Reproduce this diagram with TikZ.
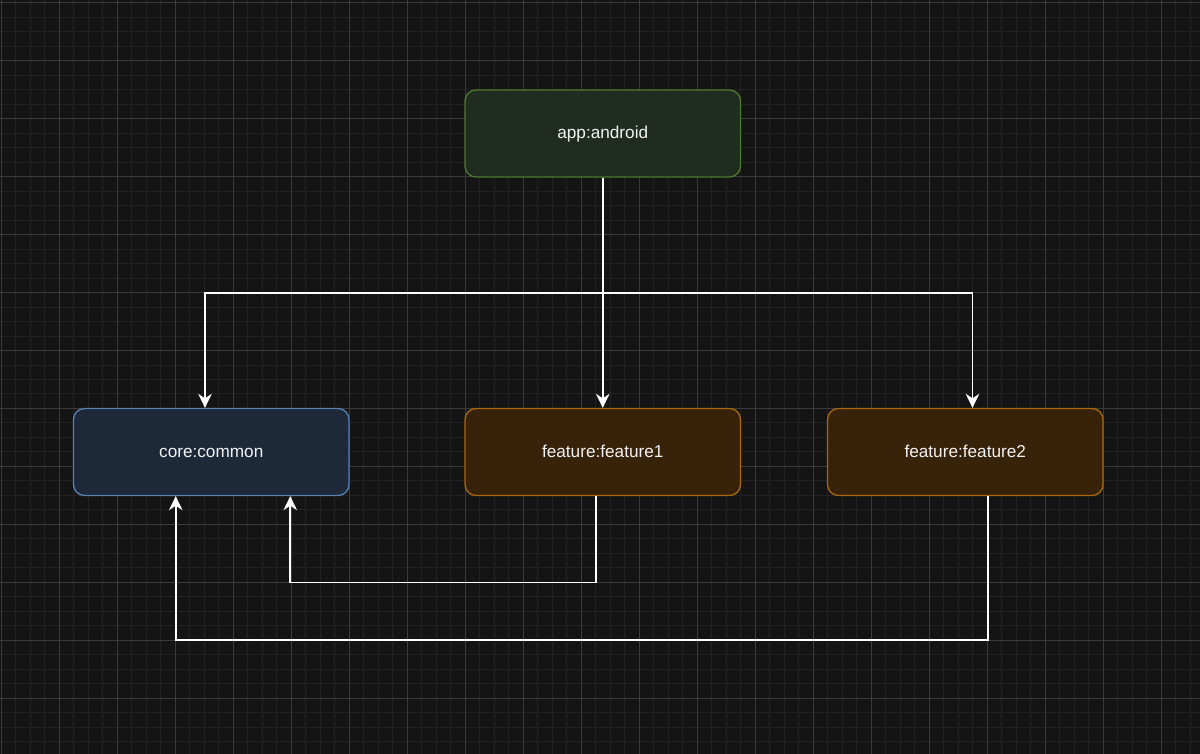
\documentclass[tikz,border=0pt]{standalone}
\usepackage{fontspec}
\setmainfont{Liberation Sans}
\usetikzlibrary{arrows.meta}
\definecolor{bgc}{HTML}{141414}
\definecolor{minorc}{HTML}{222222}
\definecolor{majorc}{HTML}{3A3A3A}
\definecolor{appfill}{HTML}{212C21}
\definecolor{appdraw}{HTML}{4C7B2D}
\definecolor{corefill}{HTML}{1D2838}
\definecolor{coredraw}{HTML}{5B7FB3}
\definecolor{featfill}{HTML}{38220A}
\definecolor{featdraw}{HTML}{A8680D}
\definecolor{txtc}{HTML}{F2F2F2}
\tikzset{
  minorline/.style={draw=minorc, line width=1pt},
  majorline/.style={draw=majorc, line width=1pt},
  modbox/.style={rounded corners=11pt, line width=1.3pt, minimum width=275.5pt, minimum height=87pt,
    inner sep=0pt, text=txtc, text height=13pt, text depth=2pt, font=\fontsize{17.2}{20}\selectfont},
  appbox/.style={modbox, draw=appdraw, fill=appfill},
  corebox/.style={modbox, draw=coredraw, fill=corefill},
  featbox/.style={modbox, draw=featdraw, fill=featfill},
  conn/.style={draw=white, line width=1.8pt, -{Stealth[length=14pt,width=13.5pt,inset=4.5pt]}},
}
\begin{document}
\begin{tikzpicture}[x={(1pt,0)}, y={(0,-1pt)}]
\useasboundingbox (0,0) rectangle (1200,754);
\fill[bgc] (0,0) rectangle (1200,754);
% grid
\foreach \i in {0,...,82} \draw[minorline] ({1+14.5*\i},0) -- ({1+14.5*\i},754);
\foreach \j in {0,...,51} \draw[minorline] (0,{3+14.48*\j}) -- (1200,{3+14.48*\j});
\foreach \i in {0,...,20} \draw[majorline] ({1+58*\i},0) -- ({1+58*\i},754);
\foreach \j in {0,...,12} \draw[majorline] (0,{3+57.92*\j}) -- (1200,{3+57.92*\j});
% nodes
\node[appbox] (app) at (602.75,133.5) {app:android};
\node[corebox] (core) at (211.25,452) {core:common};
\node[featbox] (f1) at (602.75,452) {feature:feature1};
\node[featbox] (f2) at (965.25,452) {feature:feature2};
% helper coordinates
\coordinate (bus) at (0,293);
\coordinate (row1) at (0,582.5);
\coordinate (row2) at (0,640.3);
\coordinate (coreIn) at ([xshift=-6.25pt]core.north);
\coordinate (f2In) at ([xshift=7.25pt]f2.north);
\coordinate (coreB1) at ([xshift=-35.5pt]core.south);
\coordinate (coreB2) at ([xshift=79pt]core.south);
\coordinate (f1Out) at ([xshift=-6.5pt]f1.south);
\coordinate (f2Out) at ([xshift=22.5pt]f2.south);
% connectors
\draw[conn] (app.south) -- (f1.north);
\draw[conn] (app.south) |- (coreIn |- bus) -- (coreIn);
\draw[conn] (app.south) |- (f2In |- bus) -- (f2In);
\draw[conn] (f1Out) |- (coreB2 |- row1) -- (coreB2);
\draw[conn] (f2Out) |- (coreB1 |- row2) -- (coreB1);
\end{tikzpicture}
\end{document}
